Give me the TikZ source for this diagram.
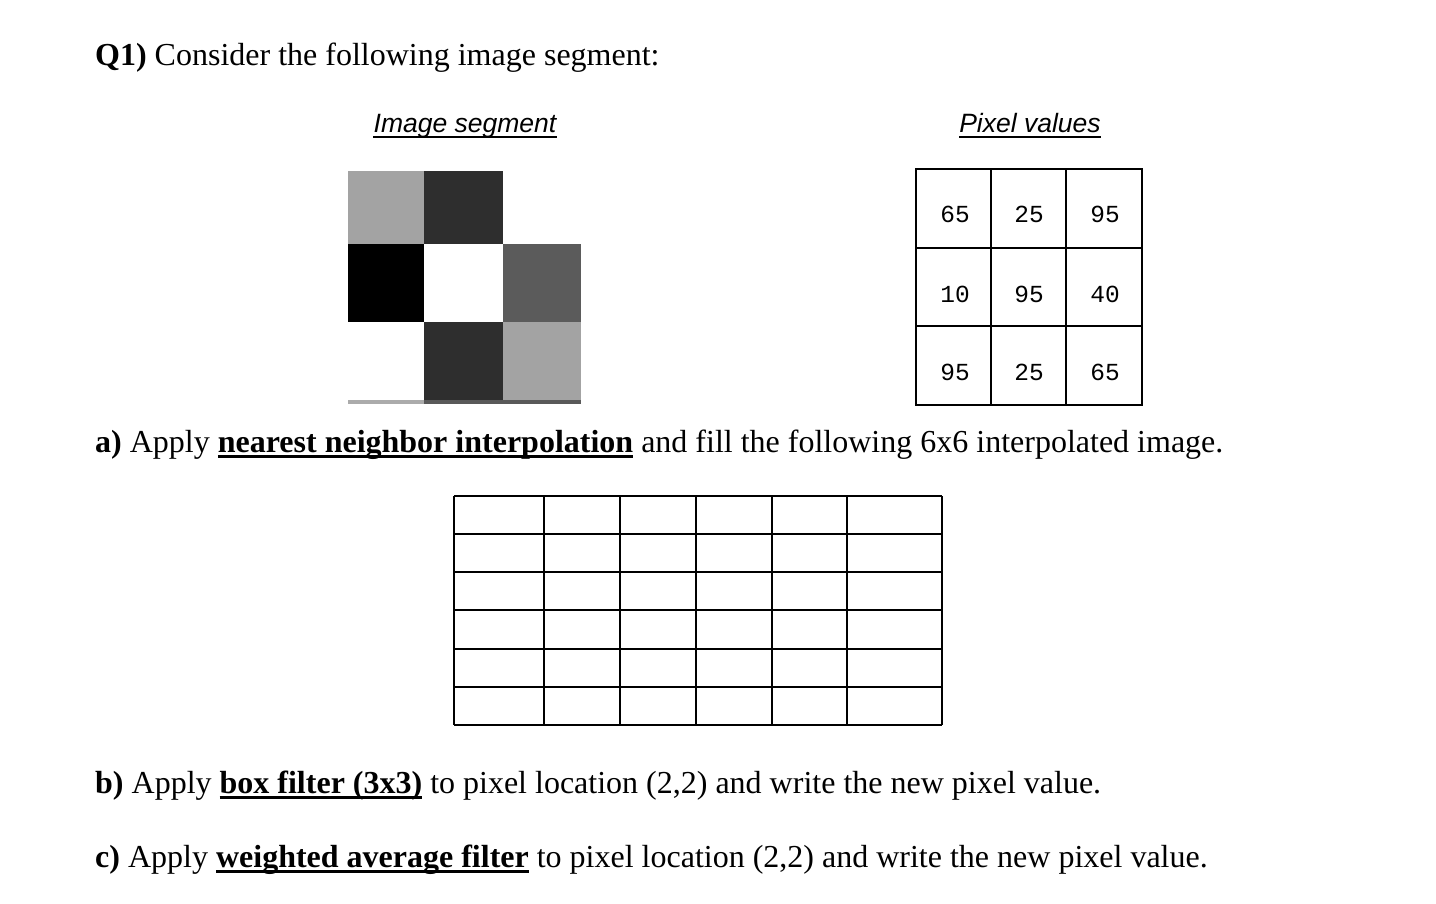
\documentclass[tikz,border=0pt]{standalone}
\usepackage{fontspec}
\setmainfont{Liberation Serif}
\setsansfont{Liberation Sans}
\setmonofont{Liberation Mono}
\definecolor{lgray}{HTML}{A3A3A3}
\definecolor{dgray}{HTML}{2E2E2E}
\definecolor{mgray}{HTML}{5B5B5B}
\newcommand{\undl}[1]{\setbox0\hbox{#1}\rlap{\rule[-6pt]{\wd0}{2.8pt}}\box0\relax}

\begin{document}
\begin{tikzpicture}[x=1pt,y=-1pt,
    txt/.style={anchor=base west,inner sep=0pt,font=\fontsize{32}{36}\selectfont},
    lbl/.style={anchor=base,inner sep=0pt,font=\fontsize{26.5}{30}\selectfont\sffamily\itshape},
    num/.style={anchor=base,inner sep=0pt,font=\fontsize{24.5}{28}\selectfont\ttfamily}]
      \useasboundingbox[fill=white] (0,0) rectangle (1436,904);

      \node[txt] (q1) at (95,66) {\textbf{Q1)} Consider the following image segment:};

      \node[lbl] (seglbl) at (465,133) {Image segment};
      \draw[line width=2pt] ([yshift=-4pt]seglbl.base west) -- ([yshift=-4pt]seglbl.base east);
      \node[lbl] (vallbl) at (1030,133) {Pixel values};
      \draw[line width=2pt] ([yshift=-4pt]vallbl.base west) -- ([yshift=-4pt]vallbl.base east);

      \fill[lgray] (348,171) rectangle (424,244);
      \fill[dgray] (424,171) rectangle (503,244);
      \fill[black] (348,244) rectangle (424,322);
      \fill[mgray] (503,244) rectangle (581,322);
      \fill[dgray] (424,322) rectangle (503,400);
      \fill[lgray] (503,322) rectangle (581,400);
      \fill[black!33] (348,400) rectangle (424,404);
      \fill[black!65] (424,400) rectangle (581,404);

      \begin{scope}[line width=1.2pt]
        \draw (916,169) rectangle (1142,405);
        \draw (991,169) -- (991,405);
        \draw (1066,169) -- (1066,405);
        \draw (916,248) -- (1142,248);
        \draw (916,326) -- (1142,326);
      \end{scope}
      \foreach \r/\yb/\a/\b/\c in {1/223/65/25/95, 2/302/10/95/40, 3/380/95/25/65}{
        \node[num] (v\r a) at (955,\yb) {\a};
        \node[num] (v\r b) at (1029,\yb) {\b};
        \node[num] (v\r c) at (1105,\yb) {\c};
      }

      \node[txt] (qa) at (95,452) {\textbf{a)} Apply \undl{\textbf{nearest neighbor interpolation}} and fill the following 6x6 interpolated image.};

      \begin{scope}[line width=1.6pt]
        \foreach \x in {454,544,620,696,772,847,942}
          \draw (\x,496) -- (\x,725);
        \foreach \y in {496,534,572,610,649,687,725}
          \draw (454,\y) -- (942,\y);
      \end{scope}

      \node[txt] (qb) at (95,793) {\textbf{b)} Apply \undl{\textbf{box filter (3x3)}} to pixel location (2,2) and write the new pixel value.};
      \node[txt] (qc) at (95,867) {\textbf{c)} Apply \undl{\textbf{weighted average filter}} to pixel location (2,2) and write the new pixel value.};
    \end{tikzpicture}
\end{document}
